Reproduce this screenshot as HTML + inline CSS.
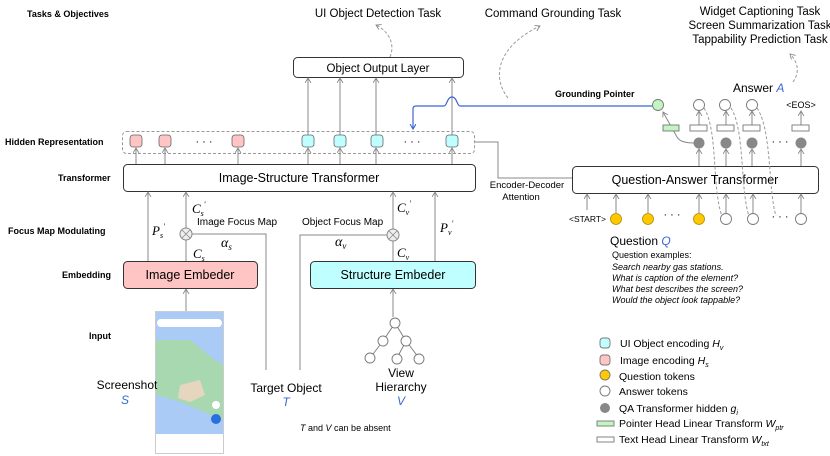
<!DOCTYPE html>
<html><head><meta charset="utf-8"><style>
body{margin:0;background:#fff}
svg{display:block;font-family:"Liberation Sans",sans-serif}
.b{font-weight:bold;font-size:9px}
.g{stroke:#888;stroke-width:1;fill:none}
.d{stroke:#999;stroke-width:1;fill:none;stroke-dasharray:3,2}
</style></head><body>
<svg width="830" height="456" viewBox="0 0 830 456">
<defs>
<marker id="a" markerWidth="7" markerHeight="7" refX="5" refY="3" orient="auto" markerUnits="userSpaceOnUse"><path d="M0,0 L5,3 L0,6" fill="none" stroke="#888" stroke-width="0.9"/></marker>
<marker id="ab" markerWidth="7" markerHeight="7" refX="5" refY="3" orient="auto" markerUnits="userSpaceOnUse"><path d="M0,0 L5,3 L0,6" fill="none" stroke="#3b66d6" stroke-width="1.1"/></marker>
</defs>
<!-- left labels -->
<text class="b" x="27" y="17">Tasks &amp; Objectives</text>
<text class="b" x="5" y="145">Hidden Representation</text>
<text class="b" x="58" y="181">Transformer</text>
<text class="b" x="8" y="234">Focus Map Modulating</text>
<text class="b" x="62" y="278">Embedding</text>
<text class="b" x="89" y="339">Input</text>

<!-- tasks -->
<text x="378" y="17" font-size="11.5" text-anchor="middle">UI Object Detection Task</text>
<text x="553" y="17" font-size="11.5" text-anchor="middle">Command Grounding Task</text>
<text x="760" y="15" font-size="11.5" text-anchor="middle">Widget Captioning Task</text>
<text x="760" y="29" font-size="11.5" text-anchor="middle">Screen Summarization Task</text>
<text x="760" y="43" font-size="11.5" text-anchor="middle">Tappability Prediction Task</text>
<path class="d" d="M390,57 C395,45 390,32 376,25" marker-end="url(#a)"/>
<path class="d" d="M508,98 C490,75 500,45 540,26" marker-end="url(#a)"/>
<path class="d" d="M793,82 C800,72 798,62 790,54" marker-end="url(#a)"/>

<!-- object output layer -->
<rect x="293.5" y="57.5" width="170" height="20" rx="4" fill="#fff" stroke="#333"/>
<text x="378" y="72" font-size="11.5" text-anchor="middle">Object Output Layer</text>
<g class="g">
<line x1="308" y1="135" x2="308" y2="78" marker-end="url(#a)"/>
<line x1="340" y1="135" x2="340" y2="78" marker-end="url(#a)"/>
<line x1="376" y1="135" x2="376" y2="78" marker-end="url(#a)"/>
<line x1="452" y1="135" x2="452" y2="78" marker-end="url(#a)"/>
</g>
<!-- blue pointer -->
<path d="M653,106 L460,106 C457,106 457,97 452,97 C447,97 447,106 444,106 L416,106 Q413,106 413,109 L413,129" fill="none" stroke="#3b66d6" stroke-width="1.2" marker-end="url(#ab)"/>
<text class="b" x="555" y="97">Grounding Pointer</text>

<!-- hidden representation -->
<rect x="122.5" y="131.5" width="352" height="22" rx="4" fill="none" stroke="#999" stroke-dasharray="3,2"/>
<g stroke="#666" stroke-width="0.8">
<rect x="130" y="135" width="12" height="12" rx="3" fill="#ffc4c4"/>
<rect x="159" y="135" width="12" height="12" rx="3" fill="#ffc4c4"/>
<rect x="232" y="135" width="12" height="12" rx="3" fill="#ffc4c4"/>
<rect x="302" y="135" width="12" height="12" rx="3" fill="#c0ffff"/>
<rect x="334" y="135" width="12" height="12" rx="3" fill="#c0ffff"/>
<rect x="371" y="135" width="12" height="12" rx="3" fill="#c0ffff"/>
<rect x="446" y="135" width="12" height="12" rx="3" fill="#c0ffff"/>
</g>
<text x="204" y="145" font-size="11" text-anchor="middle">· · ·</text>
<text x="412" y="145" font-size="11" text-anchor="middle">· · ·</text>
<g class="g">
<line x1="136" y1="164" x2="136" y2="148" marker-end="url(#a)"/>
<line x1="165" y1="164" x2="165" y2="148" marker-end="url(#a)"/>
<line x1="238" y1="164" x2="238" y2="148" marker-end="url(#a)"/>
<line x1="308" y1="164" x2="308" y2="148" marker-end="url(#a)"/>
<line x1="340" y1="164" x2="340" y2="148" marker-end="url(#a)"/>
<line x1="376" y1="164" x2="376" y2="148" marker-end="url(#a)"/>
<line x1="452" y1="164" x2="452" y2="148" marker-end="url(#a)"/>
</g>

<!-- IST -->
<rect x="123.5" y="164.5" width="352" height="27" rx="4" fill="#fff" stroke="#333"/>
<text x="299" y="182" font-size="12.5" text-anchor="middle">Image-Structure Transformer</text>

<!-- encoder-decoder -->
<path class="g" d="M475,142 L498,142 L498,178 L572,178"/>
<text x="527" y="188" font-size="9.5" text-anchor="middle">Encoder-Decoder</text>
<text x="521" y="200" font-size="9.5" text-anchor="middle">Attention</text>

<!-- focus -->
<g class="g">
<line x1="148" y1="261" x2="148" y2="192" marker-end="url(#a)"/>
<line x1="186" y1="228" x2="186" y2="192" marker-end="url(#a)"/>
<line x1="186" y1="261" x2="186" y2="240"/>
<path d="M192,234 L266,234 L266,370"/>
<path d="M300,370 L300,235 L387,235"/>
<line x1="393" y1="229" x2="393" y2="192" marker-end="url(#a)"/>
<line x1="393" y1="261" x2="393" y2="241"/>
<line x1="435" y1="261" x2="435" y2="192" marker-end="url(#a)"/>
<line x1="186" y1="311" x2="186" y2="289" marker-end="url(#a)"/>
<line x1="393" y1="317" x2="393" y2="289" marker-end="url(#a)"/>
</g>
<g fill="#eee" stroke="#888">
<circle cx="186" cy="234" r="6"/><circle cx="393" cy="235" r="6"/>
</g>
<g stroke="#888" stroke-width="0.8"><path d="M182,230 L190,238 M190,230 L182,238 M389,231 L397,239 M397,231 L389,239"/></g>
<g font-family="Liberation Serif,serif" font-style="italic" font-size="13">
<text x="152" y="235">P<tspan font-size="8" dy="3">s</tspan><tspan font-size="8" dy="-9">'</tspan></text>
<text x="192" y="213">C<tspan font-size="8" dy="3">s</tspan><tspan font-size="8" dy="-9">'</tspan></text>
<text x="193" y="258">C<tspan font-size="8" dy="3">s</tspan></text>
<text x="221" y="247" font-size="14">α<tspan font-size="9" dy="3">s</tspan></text>
<text x="335" y="246" font-size="14">α<tspan font-size="9" dy="3">v</tspan></text>
<text x="397" y="212">C<tspan font-size="8" dy="3">v</tspan><tspan font-size="8" dy="-9">'</tspan></text>
<text x="397" y="257">C<tspan font-size="8" dy="3">v</tspan></text>
<text x="440" y="232">P<tspan font-size="8" dy="3">v</tspan><tspan font-size="8" dy="-9">'</tspan></text>
</g>
<text x="197" y="225" font-size="10">Image Focus Map</text>
<text x="302" y="225" font-size="10">Object Focus Map</text>

<!-- embedders -->
<rect x="123.5" y="261.5" width="134" height="27" rx="4" fill="#ffc4c4" stroke="#333"/>
<text x="190" y="279" font-size="12.5" text-anchor="middle">Image Embeder</text>
<rect x="310.5" y="261.5" width="165" height="27" rx="4" fill="#c0ffff" stroke="#333"/>
<text x="393" y="279" font-size="12.5" text-anchor="middle">Structure Embeder</text>

<!-- phone -->
<rect x="155.5" y="311.5" width="68" height="142" fill="#fff" stroke="#ccc"/>
<rect x="156" y="312" width="67" height="122" fill="#aacbf5"/>
<path d="M156,340 L190,340 L215,360 L223,365 L223,420 L200,410 L175,400 L156,395 Z" fill="#a8d8b0"/>
<path d="M180,385 L200,380 L205,395 L190,402 L178,398 Z" fill="#e6d6c0"/>
<rect x="157" y="319" width="65" height="8" rx="4" fill="#fff"/>
<circle cx="216" cy="419" r="5" fill="#2a6fe0"/>
<circle cx="216" cy="405" r="4" fill="#fff"/>
<text x="127" y="389" font-size="12" text-anchor="middle">Screenshot</text>
<text x="125" y="404" font-size="12" font-style="italic" fill="#3b66d6" text-anchor="middle">S</text>
<text x="286" y="392" font-size="12" text-anchor="middle">Target Object</text>
<text x="286" y="406" font-size="12" font-style="italic" fill="#3b66d6" text-anchor="middle">T</text>

<!-- tree -->
<g stroke="#777" fill="#fff" stroke-width="0.9">
<path d="M395,323 L383,341 L370,358 M395,323 L406,341 L397,358 M406,341 L419,358" fill="none"/>
<circle cx="395" cy="323" r="5"/><circle cx="383" cy="341" r="5"/><circle cx="406" cy="341" r="5"/>
<circle cx="370" cy="358" r="5"/><circle cx="397" cy="359" r="5"/><circle cx="419" cy="359" r="5"/>
</g>
<text x="401" y="377" font-size="12" text-anchor="middle">View</text>
<text x="401" y="391" font-size="12" text-anchor="middle">Hierarchy</text>
<text x="401" y="405" font-size="12" font-style="italic" fill="#3b66d6" text-anchor="middle">V</text>
<text x="300" y="431" font-size="9"><tspan font-style="italic">T</tspan>  and <tspan font-style="italic">V</tspan> can be absent</text>

<!-- QA transformer -->
<rect x="572.5" y="166.5" width="246" height="27" rx="4" fill="#fff" stroke="#333"/>
<text x="695" y="184" font-size="12.5" text-anchor="middle">Question-Answer Transformer</text>
<g class="g">
<line x1="587" y1="210" x2="587" y2="194" marker-end="url(#a)"/>
<line x1="616" y1="213" x2="616" y2="194" marker-end="url(#a)"/>
<line x1="648" y1="213" x2="648" y2="194" marker-end="url(#a)"/>
<line x1="699" y1="213" x2="699" y2="194" marker-end="url(#a)"/>
<line x1="726" y1="213" x2="726" y2="194" marker-end="url(#a)"/>
<line x1="753" y1="213" x2="753" y2="194" marker-end="url(#a)"/>
<line x1="801" y1="213" x2="801" y2="194" marker-end="url(#a)"/>
<line x1="699" y1="166" x2="699" y2="149" marker-end="url(#a)"/>
<line x1="726" y1="166" x2="726" y2="149" marker-end="url(#a)"/>
<line x1="752" y1="166" x2="752" y2="149" marker-end="url(#a)"/>
<line x1="801" y1="166" x2="801" y2="149" marker-end="url(#a)"/>
<line x1="699" y1="125" x2="699" y2="111" marker-end="url(#a)"/>
<line x1="726" y1="125" x2="726" y2="111" marker-end="url(#a)"/>
<line x1="752" y1="125" x2="752" y2="111" marker-end="url(#a)"/>
<line x1="801" y1="125" x2="801" y2="111" marker-end="url(#a)"/>
<path d="M694,143 Q680,143 677,137 L663,112" marker-end="url(#a)"/>
</g>
<g class="d">
<path d="M704,108 C718,130 712,190 722,216" />
<path d="M731,108 C745,130 740,190 749,216" />
<path d="M757,108 C772,130 768,190 776,216" />
</g>
<text x="606" y="222" font-size="8.5" text-anchor="end">&lt;START&gt;</text>
<g fill="#ffc800" stroke="#b08a00" stroke-width="0.8">
<circle cx="616" cy="219" r="5.5"/><circle cx="648" cy="219" r="5.5"/><circle cx="699" cy="219" r="5.5"/>
</g>
<g fill="#fff" stroke="#777" stroke-width="0.9">
<circle cx="726" cy="219" r="5.5"/><circle cx="753" cy="219" r="5.5"/><circle cx="801" cy="219" r="5.5"/>
<circle cx="699" cy="105" r="5.5"/><circle cx="725" cy="105" r="5.5"/><circle cx="752" cy="105" r="5.5"/>
<rect x="690" y="125" width="17" height="6"/><rect x="717" y="125" width="17" height="6"/><rect x="743" y="125" width="17" height="6"/><rect x="792" y="125" width="17" height="6"/>
</g>
<rect x="663" y="125" width="16" height="6" fill="#c2f5c2" stroke="#777" stroke-width="0.9"/>
<circle cx="658" cy="105" r="5.5" fill="#c2f5c2" stroke="#777" stroke-width="0.9"/>
<g fill="#888"><circle cx="699" cy="143" r="5.5"/><circle cx="726" cy="143" r="5.5"/><circle cx="752" cy="143" r="5.5"/><circle cx="801" cy="143" r="5.5"/></g>
<text x="672" y="218" font-size="11" text-anchor="middle">· · ·</text>
<text x="780" y="220" font-size="11" text-anchor="middle">· · ·</text>
<text x="780" y="145" font-size="11" text-anchor="middle">· · ·</text>
<text x="801" y="108" font-size="9" text-anchor="middle">&lt;EOS&gt;</text>
<text x="733" y="92" font-size="12">Answer <tspan font-style="italic" fill="#3b66d6">A</tspan></text>

<text x="610" y="245" font-size="12">Question <tspan font-style="italic" fill="#3b66d6">Q</tspan></text>
<g font-size="9">
<text x="612" y="258">Question examples:</text>
<text x="612" y="270" font-style="italic">Search nearby gas stations.</text>
<text x="612" y="281" font-style="italic">What is caption of the element?</text>
<text x="612" y="292" font-style="italic">What best describes the screen?</text>
<text x="612" y="303" font-style="italic">Would the object look tappable?</text>
</g>

<!-- legend -->
<g stroke="#777" stroke-width="0.9">
<rect x="600" y="338" width="10" height="10" rx="3" fill="#c0ffff"/>
<rect x="600" y="355" width="10" height="10" rx="3" fill="#ffc4c4"/>
<circle cx="605" cy="375" r="5" fill="#ffc800"/>
<circle cx="605" cy="391" r="5" fill="#fff"/>
<circle cx="605" cy="408" r="5" fill="#888" stroke="none"/>
<rect x="597" y="421" width="17" height="5" fill="#c2f5c2"/>
<rect x="597" y="437" width="17" height="5" fill="#fff"/>
</g>
<g font-size="10.5">
<text x="620" y="347">UI Object encoding <tspan font-style="italic">H</tspan><tspan font-size="7" dy="3" font-style="italic">v</tspan></text>
<text x="620" y="364">Image encoding <tspan font-style="italic">H</tspan><tspan font-size="7" dy="3" font-style="italic">s</tspan></text>
<text x="619" y="380">Question tokens</text>
<text x="619" y="395">Answer tokens</text>
<text x="619" y="412">QA Transformer hidden <tspan font-style="italic">g</tspan><tspan font-size="7" dy="3" font-style="italic">i</tspan></text>
<text x="619" y="427">Pointer Head Linear Transform <tspan font-style="italic">W</tspan><tspan font-size="7" dy="3" font-style="italic">ptr</tspan></text>
<text x="619" y="443">Text Head Linear Transform <tspan font-style="italic">W</tspan><tspan font-size="7" dy="3" font-style="italic">txt</tspan></text>
</g>
</svg>
</body></html>
